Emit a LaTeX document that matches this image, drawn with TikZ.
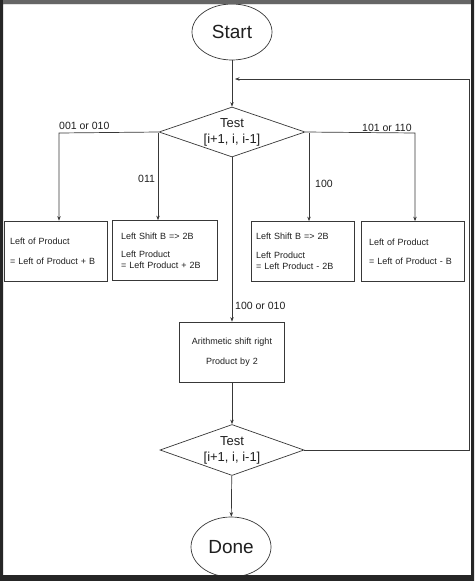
\documentclass[tikz,border=0pt]{standalone}
\usepackage{fontspec}
\setmainfont{Liberation Sans}
\usetikzlibrary{shapes.geometric,arrows.meta}
\definecolor{lc}{gray}{0.22}
\definecolor{tc}{gray}{0.12}
\begin{document}
\begin{tikzpicture}[x=1pt,y=-1pt,
  every node/.style={text=tc},
  line/.style={draw=lc,line width=0.7pt},
  arr/.style={line,-{Stealth[length=4.5pt,width=3.5pt]}},
  term/.style={ellipse,draw=lc,line width=0.7pt,inner sep=0pt,minimum width=80pt,font=\fontsize{19}{22}\selectfont},
  test/.style={diamond,draw=lc,line width=0.7pt,aspect=2.9,inner sep=-1.5pt,minimum width=146pt,minimum height=50pt,align=center,font=\fontsize{13}{16}\selectfont},
  box/.style={rectangle,draw=lc,line width=0.7pt,align=left,inner ysep=0pt,minimum height=60pt,font=\fontsize{9}{11}\selectfont},
  lab/.style={anchor=base west,inner sep=0pt,font=\fontsize{10.5}{12}\selectfont}]
\useasboundingbox (0,0) rectangle (474,581);
\fill[white] (0,0) rectangle (474,581);
% nodes
\node[term,minimum height=56pt] (start) at (232,32) {Start};
\node[test] (d1) at (232,132) {Test\\{}[i+1, i, i-1]};
\node[box,inner xsep=6pt,text width=91pt] (b1) at (55.5,251) {Left of Product\\[9pt]= Left of Product + B};
\node[box,inner xsep=9pt,text width=87pt] (b2) at (164.5,250.5) {Left Shift B => 2B\\[7pt]Left Product\\= Left Product + 2B};
\node[box,inner xsep=5pt,text width=93pt] (b3) at (302.5,251.5) {Left Shift B => 2B\\[8pt]Left Product\\= Left Product - 2B};
\node[box,inner xsep=8pt,text width=87pt] (b4) at (412.5,251.5) {Left of Product\\[8pt]= Left of Product - B};
\node[box,inner xsep=5pt,text width=95pt,align=center] (b5) at (232,352) {Arithmetic shift right\\[9pt]Product by 2};
\node[test,minimum width=144pt,minimum height=51pt] (d2) at (232,450) {Test\\{}[i+1, i, i-1]};
\node[term,minimum height=60pt] (done) at (231,547) {Done};
% coordinates
\coordinate (c1) at (59,133);
\coordinate (c2) at (158,133);
\coordinate (c3) at (309,133);
\coordinate (c4) at (415,133);
\coordinate (loop) at (469,79);
\coordinate (loopend) at (235,79);
% connectors
\draw[arr] (start) -- (d1);
\draw[arr] (d1.west) -- (c1) -- (c1 |- b1.north);
\draw[arr] (c2) -- (c2 |- b2.north);
\draw[arr] (d1.east) -- (c4) -- (c4 |- b4.north);
\draw[arr] (c3) -- (c3 |- b3.north);
\draw[arr] (d1) -- (b5);
\draw[arr] (b5) -- (d2);
\draw[arr] (d2) -- (done);
\draw[arr] (d2.east) -| (loop) -- (loopend);
% labels
\node[lab] (l1) at (59,129) {001 or 010};
\node[lab] (l2) at (362,131) {101 or 110};
\node[lab] (l3) at (138,182) {011};
\node[lab] (l4) at (315,187) {100};
\node[lab] (l5) at (235,309) {100 or 010};
% frame
\fill[black!85,even odd rule] (0,0) rectangle (474,581) (3,4) rectangle (471,575);
\fill[black!60] (3,0) rectangle (471,4);
\end{tikzpicture}
\end{document}
